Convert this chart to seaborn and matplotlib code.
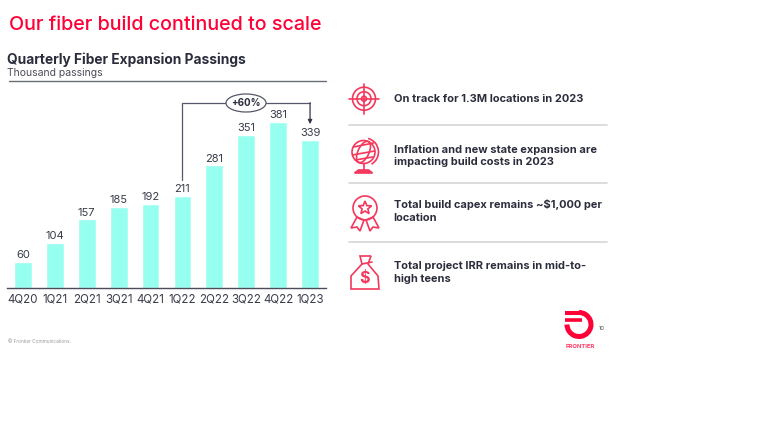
import matplotlib
matplotlib.use("Agg")
import matplotlib.pyplot as plt
from matplotlib.patches import Circle, Ellipse, Polygon, Arc
import numpy as np
import pandas as pd
import seaborn as sns

quarters = ["4Q20", "1Q21", "2Q21", "3Q21", "4Q21", "1Q22", "2Q22", "3Q22", "4Q22", "1Q23"]
passings = [60, 104, 157, 185, 192, 211, 281, 351, 381, 339]
bullets = [
    "On track for 1.3M locations in 2023",
    "Inflation and new state expansion are\nimpacting build costs in 2023",
    "Total build capex remains ~$1,000 per\nlocation",
    "Total project IRR remains in mid-to-\nhigh teens",
]

RED = "#FF0037"
ICON = "#F4385C"
INK = "#2B2D3C"
TURQ = "#96FFF0"

sns.set_theme(style="white")
plt.rcParams["font.family"] = ["Inter", "DejaVu Sans"]

W, H = 768, 432
fig = plt.figure(figsize=(W / 100, H / 100), dpi=100, facecolor="white")

# Bar panel: baseline at y=288 px, spanning x=7..326 px
ax = fig.add_axes([7 / W, 1 - 288 / H, 319 / W, 208 / H])
df = pd.DataFrame({"quarter": quarters, "passings": passings})
sns.barplot(data=df, x="quarter", y="passings", color=TURQ, saturation=1, width=0.56, ax=ax)
ax.set_xlim(-0.5, 9.5)
ax.set_ylim(0, 208 / 0.437)
ax.set_xlabel("")
ax.set_ylabel("")
ax.set_yticks([])
ax.tick_params(axis="x", length=0, pad=4, labelsize=8.3, labelcolor="#3A3C4A")
for side in ("top", "left", "right"):
    ax.spines[side].set_visible(False)
ax.spines["bottom"].set_color("#4A4C5A")
ax.spines["bottom"].set_linewidth(1.0)
ax.patch.set_alpha(0)
for i, v in enumerate(passings):
    ax.annotate(str(v), (i, v), xytext=(0, 1.2), textcoords="offset points", ha="center",
                va="bottom", fontsize=8.0, color="#3A3C4A")

# Growth bracket from 1Q22 to 1Q23
y_top = 424
ax.plot([5, 5, 9], [247, y_top, y_top], color="#55576A", lw=0.9, solid_joinstyle="miter", clip_on=False)
ax.annotate("", xy=(9, 375), xytext=(9, y_top),
            arrowprops=dict(arrowstyle="-|>,head_width=0.1,head_length=0.2", color="#33354A", lw=0.9, shrinkA=0, shrinkB=0))

# Slide furniture drawn in pixel coordinates
ov = fig.add_axes([0, 0, 1, 1], facecolor="none")
ov.set_xlim(0, W)
ov.set_ylim(H, 0)
ov.axis("off")

ov.add_patch(Ellipse((246, 103), 40, 18, fc="white", ec="#55576A", lw=0.9, zorder=5))
ov.text(246, 103.3, "+60%", ha="center", va="center", fontsize=7.0, fontweight="bold", color=INK, zorder=6)

ov.text(9, 25, "Our fiber build continued to scale", color=RED, fontsize=14.2, fontweight="medium", va="center")
ov.text(7, 60, "Quarterly Fiber Expansion Passings", color=INK, fontsize=9.9, fontweight="bold", va="center")
ov.text(7, 73.5, "Thousand passings", color="#4A4C5A", fontsize=7.5, va="center")
ov.plot([9, 326], [81, 81], color="#6A6C78", lw=1.0)

ys = [99, 156.0, 211.3, 272.3]
for text, y in zip(bullets, ys):
    ov.text(393.5, y, text, color=INK, fontsize=7.95, fontweight="bold", va="center", linespacing=1.36)
for y in (124.5, 183, 242):
    ov.plot([349, 607], [y, y], color="#D9D9D9", lw=1.3)

lw = 1.2
# Target icon
cx, cy = 364, 98.7
for r in (11.5, 7, 2.5):
    ov.add_patch(Circle((cx, cy), r, fc="none", ec=ICON, lw=lw))
ov.plot([cx - 15, cx + 15], [cy, cy], color=ICON, lw=lw)
ov.plot([cx, cx], [cy - 15, cy + 15], color=ICON, lw=lw)

# Globe icon
cx, cy = 363.5, 152
ov.add_patch(Circle((cx, cy), 11.5, fc="none", ec=ICON, lw=lw))
ov.add_patch(Ellipse((cx, cy), 11, 23, angle=25, fc="none", ec=ICON, lw=lw))
ov.plot([cx - 10, cx + 10], [cy - 5, cy - 9], color=ICON, lw=lw)
ov.plot([cx - 11, cx + 11], [cy + 3, cy - 1], color=ICON, lw=lw)
ov.plot([cx - 8, cx + 9], [cy + 8, cy + 5], color=ICON, lw=lw)
ov.add_patch(Arc((cx + 1, cy), 28, 28, theta1=-75, theta2=60, ec=ICON, lw=lw))
ov.plot([cx, cx], [cy + 12, cy + 18], color=ICON, lw=lw)
ov.add_patch(Polygon([[cx - 9, cy + 21], [cx - 5, cy + 18], [cx + 5, cy + 18], [cx + 9, cy + 21]], fc=ICON, ec=ICON, lw=lw))

# Ribbon icon
cx, cy = 365, 208
ov.add_patch(Circle((cx, cy), 12, fc="none", ec=ICON, lw=lw))
angs = np.deg2rad(np.arange(-90, 270, 36))
rad = np.array([7, 3] * 5)
ov.add_patch(Polygon(np.c_[cx + rad * np.cos(angs), cy + rad * np.sin(angs)], fc="none", ec=ICON, lw=lw))
ov.add_patch(Polygon([[cx - 8, cy + 9], [cx - 14, cy + 20], [cx - 8, cy + 19], [cx - 5, cy + 23], [cx - 1, cy + 12]], fc="none", ec=ICON, lw=lw))
ov.add_patch(Polygon([[cx + 8, cy + 9], [cx + 14, cy + 20], [cx + 8, cy + 19], [cx + 5, cy + 23], [cx + 1, cy + 12]], fc="none", ec=ICON, lw=lw))

# Money bag icon
ov.add_patch(Polygon([[360, 256], [371, 256], [368, 264], [378, 276], [379, 289], [351, 289], [351, 276], [362, 264]], fc="none", ec=ICON, lw=lw))
ov.plot([362, 372], [264, 262], color=ICON, lw=lw)
ov.text(365, 278.5, "$", color=ICON, fontsize=11.5, fontweight="bold", ha="center", va="center")

# Brand mark and page number
ring = dict(ec=RED, lw=3.6)
ov.add_patch(Arc((579, 324.5), 24, 24, theta1=-90, theta2=180, **ring))
ov.plot([565, 580], [312.5, 312.5], color=RED, lw=2.9, solid_capstyle="butt")
ov.plot([565, 582], [320, 320], color=RED, lw=2.6, solid_capstyle="butt")
ov.text(580, 346, "FRONTIER", color=RED, fontsize=4.3, fontweight="bold", ha="center", va="center", alpha=0.75)
ov.text(601.5, 328.5, "10", color="#555555", fontsize=4.2, ha="center", va="center")
ov.text(8, 341.5, "© Frontier Communications.", color="#9A9A9A", fontsize=3.4, va="center")

fig.savefig("out.png", dpi=100, facecolor="white")
